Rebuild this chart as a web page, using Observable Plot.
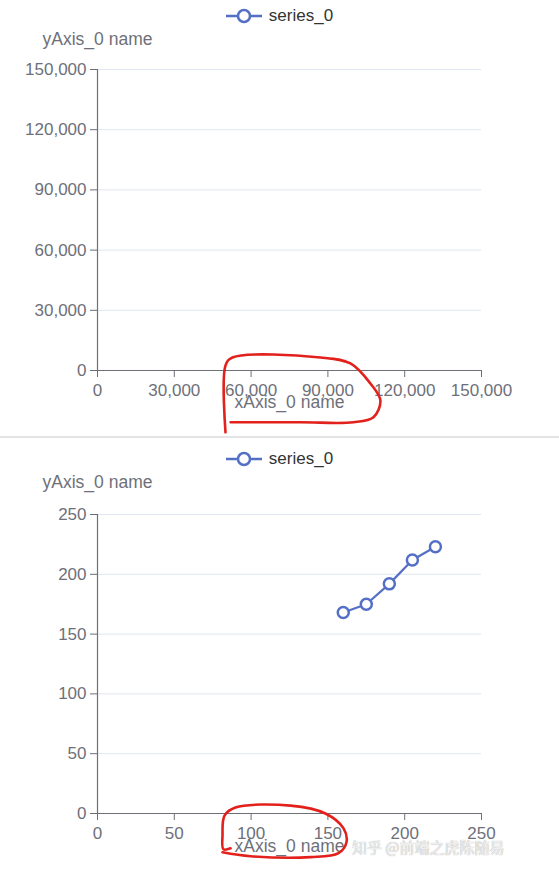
<!DOCTYPE html>
<html>
<head>
<meta charset="utf-8">
<script src="https://cdn.jsdelivr.net/npm/d3@7"></script>
<script src="https://cdn.jsdelivr.net/npm/@observablehq/plot@0.6"></script>
<style>
  html, body { margin: 0; padding: 0; background: #fff; }
  body { width: 559px; height: 872px; position: relative; overflow: hidden; font-family: "Liberation Sans", Arial, Helvetica, sans-serif; }
  .chart { position: relative; width: 559px; }
  .legend { position: absolute; left: 0; width: 559px; height: 20px; display: flex; justify-content: center; align-items: center; font-size: 17px; color: #333; }
  .legend svg { display: block; margin-right: 7px; }
  .sep { width: 559px; height: 2px; background: #e4e4e4; }
  .wm { position: absolute; left: 352px; top: 836px; font-family: "Noto Sans CJK SC", sans-serif; font-size: 15px; color: #eeeeee; text-shadow: 0 0 1px rgba(0,0,0,0.4); white-space: nowrap; }
</style>
</head>
<body>
<div id="c1" class="chart"></div>
<div class="sep"></div>
<div id="c2" class="chart"></div>
<div class="wm">知乎 @前端之虎陈随易</div>
<script>
// ---- data ----
const seriesName = "series_0";
const xAxisName = "xAxis_0 name";
const yAxisName = "yAxis_0 name";

// chart 1 (empty series)
const xTicks1 = [0, 30000, 60000, 90000, 120000, 150000];
const yTicks1 = [0, 30000, 60000, 90000, 120000, 150000];
const xValues1 = [];
const yValues1 = [];

// chart 2
const xTicks2 = [0, 50, 100, 150, 200, 250];
const yTicks2 = [0, 50, 100, 150, 200, 250];
const xValues2 = [160, 175, 190, 205, 220];
const yValues2 = [168, 175, 192, 212, 223];

// hand-drawn red annotations, in each chart's data coordinates
const annoTopX = [50000, 50000, 52700, 87100, 98800, 106600, 110500, 107800, 100000, 79300, 52000];
const annoTopY = [-30800, 2500, 6500, 6500, 3500, -6500, -14900, -23300, -25800, -25800, -25800];
const annoBotX = [86.6, 82.0, 81.4, 82.7, 89.8, 125.7, 148.4, 160.2, 162.1, 156.9, 138.7, 99.6, 81.4];
const annoBotY = [-29.1, -29.9, -18.3, -1.7, 5.0, 6.6, 0, -12.5, -24.1, -33.2, -36.5, -35.7, -32.4];

const blue = "#5470c6";
const axisColor = "#6e7079";
const gridColor = "#e0e6f1";
const red = "#e3211c";

function makeChart(opts) {
  const data = opts.xs.map((x, i) => ({x, y: opts.ys[i]}));
  const anno = opts.ax.map((x, i) => ({x, y: opts.ay[i]}));
  return Plot.plot({
    width: 559,
    height: opts.height,
    marginLeft: 97,
    marginRight: 78,
    marginTop: opts.mt,
    marginBottom: opts.mb,
    style: {
      fontSize: "17px",
      fontFamily: '"Liberation Sans", Arial, Helvetica, sans-serif',
      color: axisColor,
      background: "transparent",
      overflow: "visible"
    },
    x: {domain: [opts.xTicks[0], opts.xTicks[opts.xTicks.length - 1]], label: null},
    y: {domain: [opts.yTicks[0], opts.yTicks[opts.yTicks.length - 1]], label: null},
    marks: [
      Plot.gridY(opts.yTicks.filter(d => d > 0), {stroke: gridColor, strokeOpacity: 1, strokeWidth: 1}),
      Plot.axisY(opts.yTicks, {tickSize: 7, tickPadding: 4, tickFormat: d3.format(","), stroke: axisColor, fill: axisColor, label: null}),
      Plot.axisX(opts.xTicks, {tickSize: 7, tickPadding: 6, tickFormat: d3.format(","), stroke: axisColor, fill: axisColor, label: null}),
      Plot.ruleX([opts.xTicks[0]], {stroke: axisColor, strokeWidth: 1.2}),
      Plot.ruleY([opts.yTicks[0]], {stroke: axisColor, strokeWidth: 1.2}),
      Plot.line(data, {x: "x", y: "y", stroke: blue, strokeWidth: 2.2}),
      Plot.dot(data, {x: "x", y: "y", r: 5.5, fill: "white", stroke: blue, strokeWidth: 2.5}),
      Plot.text([yAxisName], {frameAnchor: "top-left", textAnchor: "middle", dy: opts.yNameDy, fill: axisColor, fontSize: 17.5}),
      Plot.text([xAxisName], {frameAnchor: "bottom", textAnchor: "middle", dy: opts.xNameDy, fill: axisColor, fontSize: 17.5}),
      Plot.line(anno, {x: "x", y: "y", stroke: red, strokeWidth: 2.6, curve: "catmull-rom", strokeLinecap: "round", strokeLinejoin: "round"})
    ]
  });
}

function legend(top) {
  const d = document.createElement("div");
  d.className = "legend";
  d.style.top = top + "px";
  d.innerHTML = `<svg width="36" height="16" viewBox="0 0 36 16"><line x1="0" y1="8" x2="36" y2="8" stroke="${blue}" stroke-width="2.5"/><circle cx="18" cy="8" r="6" fill="white" stroke="${blue}" stroke-width="2.5"/></svg><span>${seriesName}</span>`;
  return d;
}

const c1 = document.getElementById("c1");
c1.appendChild(makeChart({
  height: 436, mt: 69, mb: 66,
  xTicks: xTicks1, yTicks: yTicks1, xs: xValues1, ys: yValues1,
  ax: annoTopX, ay: annoTopY, yNameDy: -37, xNameDy: 37
}));
c1.appendChild(legend(6));

const c2 = document.getElementById("c2");
c2.appendChild(makeChart({
  height: 434, mt: 76, mb: 59,
  xTicks: xTicks2, yTicks: yTicks2, xs: xValues2, ys: yValues2,
  ax: annoBotX, ay: annoBotY, yNameDy: -39, xNameDy: 38
}));
c2.appendChild(legend(11));
</script>
</body>
</html>
